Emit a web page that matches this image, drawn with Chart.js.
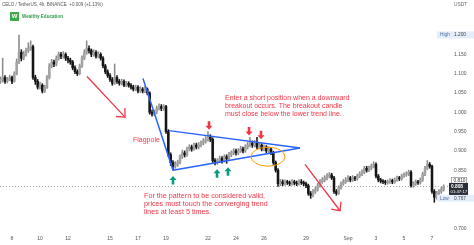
<!DOCTYPE html>
<html><head><meta charset="utf-8">
<script src="https://cdn.jsdelivr.net/npm/chart.js@4.4.0/dist/chart.umd.min.js"></script>
<style>html,body{margin:0;padding:0;background:#fff;}#wrap{width:474px;height:245px;position:relative;}</style>
</head><body><div id="wrap"><canvas id="c" width="474" height="245"></canvas></div>
<script>
// 4h candles, CELO/USDT, starting Aug 7 04:00 (time in day-of-August units)
const startDay = 7 + 4/24;
const stepDay = 4/24;
const opens = [
1.080,1.085,1.090,1.080,1.085,1.090,1.080,1.100,1.130,1.155,
1.140,1.150,1.160,1.165,1.170,1.090,1.080,1.065,1.070,1.055,
1.065,1.090,1.120,1.130,1.125,1.140,1.150,1.145,1.150,1.140,
1.135,1.130,1.115,1.105,1.100,1.120,1.140,1.155,1.165,1.160,
1.150,1.155,1.145,1.150,1.140,1.120,1.105,1.095,1.085,1.075,
1.090,1.080,1.075,1.080,1.070,1.075,1.070,1.065,1.060,1.065,
1.055,1.060,1.055,1.060,1.050,1.000,0.995,1.000,1.010,1.015,
1.010,1.015,0.950,0.890,0.870,0.860,0.865,0.870,0.885,0.895,
0.890,0.905,0.910,0.905,0.915,0.910,0.915,0.920,0.925,0.930,
0.935,0.930,0.875,0.870,0.875,0.880,0.875,0.885,0.880,0.890,
0.895,0.900,0.895,0.900,0.905,0.900,0.910,0.915,0.920,0.915,
0.920,0.910,0.915,0.905,0.910,0.900,0.905,0.895,0.870,0.850,
0.815,0.820,0.815,0.820,0.818,0.815,0.820,0.817,0.815,0.820,
0.818,0.815,0.810,0.790,0.785,0.795,0.800,0.810,0.820,0.825,
0.830,0.835,0.838,0.830,0.795,0.790,0.805,0.815,0.820,0.825,
0.830,0.825,0.830,0.828,0.835,0.840,0.845,0.855,0.850,0.855,
0.860,0.865,0.835,0.825,0.822,0.820,0.818,0.820,0.823,0.820,
0.825,0.830,0.828,0.835,0.838,0.840,0.845,0.810,0.815,0.820,
0.818,0.825,0.840,0.855,0.865,0.860,0.795,0.780,0.790,0.795,0.800];
const highs = [
1.092,1.140,1.095,1.090,1.096,1.094,1.105,1.138,1.200,1.162,
1.158,1.166,1.180,1.185,1.174,1.096,1.085,1.078,1.074,1.070,
1.095,1.126,1.137,1.135,1.146,1.156,1.155,1.157,1.154,1.145,
1.140,1.134,1.120,1.110,1.125,1.146,1.162,1.185,1.172,1.164,
1.162,1.160,1.157,1.154,1.144,1.124,1.110,1.100,1.090,1.125,
1.095,1.085,1.086,1.084,1.080,1.079,1.074,1.070,1.070,1.069,
1.066,1.064,1.067,1.063,1.053,1.006,1.006,1.016,1.022,1.020,
1.020,1.018,0.955,0.895,0.875,0.872,0.876,0.890,0.902,0.900,
0.910,0.916,0.915,0.920,0.920,0.922,0.926,0.932,0.937,0.950,
0.942,0.934,0.880,0.880,0.887,0.885,0.890,0.890,0.896,0.900,
0.906,0.905,0.906,0.912,0.910,0.916,0.922,0.935,0.926,0.927,
0.935,0.921,0.919,0.916,0.914,0.911,0.909,0.899,0.874,0.854,
0.826,0.825,0.825,0.824,0.822,0.826,0.824,0.822,0.825,0.826,
0.822,0.819,0.814,0.795,0.800,0.806,0.816,0.826,0.831,0.836,
0.841,0.844,0.842,0.834,0.800,0.810,0.820,0.826,0.831,0.836,
0.834,0.836,0.834,0.840,0.846,0.851,0.860,0.860,0.861,0.866,
0.872,0.869,0.839,0.829,0.826,0.824,0.825,0.828,0.827,0.830,
0.835,0.834,0.840,0.843,0.846,0.850,0.849,0.820,0.825,0.824,
0.830,0.845,0.860,0.875,0.870,0.863,0.800,0.795,0.800,0.806,0.812];
const lows = [
1.075,1.078,1.075,1.076,1.082,1.074,1.078,1.097,1.126,1.133,
1.136,1.145,1.155,1.160,1.085,1.072,1.060,1.060,1.050,1.051,
1.062,1.086,1.115,1.118,1.120,1.135,1.139,1.140,1.134,1.128,
1.124,1.110,1.100,1.095,1.097,1.116,1.136,1.150,1.153,1.144,
1.145,1.140,1.141,1.135,1.115,1.100,1.090,1.080,1.070,1.072,
1.075,1.070,1.071,1.066,1.066,1.065,1.060,1.055,1.056,1.050,
1.051,1.050,1.051,1.045,0.995,0.990,0.991,0.996,1.006,1.004,
1.005,0.945,0.885,0.862,0.850,0.855,0.860,0.866,0.880,0.884,
0.886,0.900,0.899,0.901,0.905,0.905,0.910,0.916,0.920,0.925,
0.924,0.870,0.864,0.865,0.870,0.868,0.871,0.868,0.876,0.885,
0.890,0.889,0.890,0.896,0.895,0.896,0.905,0.910,0.909,0.910,
0.905,0.905,0.900,0.900,0.895,0.896,0.890,0.865,0.845,0.808,
0.810,0.810,0.811,0.813,0.810,0.811,0.812,0.810,0.811,0.813,
0.810,0.805,0.785,0.777,0.781,0.790,0.796,0.806,0.816,0.820,
0.825,0.830,0.826,0.790,0.785,0.787,0.801,0.811,0.816,0.820,
0.820,0.821,0.823,0.824,0.831,0.836,0.841,0.845,0.846,0.851,
0.856,0.830,0.820,0.817,0.815,0.813,0.814,0.816,0.815,0.816,
0.821,0.823,0.824,0.831,0.834,0.836,0.806,0.806,0.811,0.813,
0.814,0.821,0.836,0.851,0.855,0.790,0.767,0.775,0.785,0.790,0.796];
const closes = [
1.085,1.090,1.080,1.085,1.090,1.080,1.100,1.130,1.155,1.140,
1.150,1.160,1.165,1.170,1.090,1.080,1.065,1.070,1.055,1.065,
1.090,1.120,1.130,1.125,1.140,1.150,1.145,1.150,1.140,1.135,
1.130,1.115,1.105,1.100,1.120,1.140,1.155,1.165,1.160,1.150,
1.155,1.145,1.150,1.140,1.120,1.105,1.095,1.085,1.075,1.090,
1.080,1.075,1.080,1.070,1.075,1.070,1.065,1.060,1.065,1.055,
1.060,1.055,1.060,1.050,1.000,0.995,1.000,1.010,1.015,1.010,
1.015,0.950,0.890,0.870,0.860,0.865,0.870,0.885,0.895,0.890,
0.905,0.910,0.905,0.915,0.910,0.915,0.920,0.925,0.930,0.935,
0.930,0.875,0.870,0.875,0.880,0.875,0.885,0.880,0.890,0.895,
0.900,0.895,0.900,0.905,0.900,0.910,0.915,0.920,0.915,0.920,
0.910,0.915,0.905,0.910,0.900,0.905,0.895,0.870,0.850,0.815,
0.820,0.815,0.820,0.818,0.815,0.820,0.817,0.815,0.820,0.818,
0.815,0.810,0.790,0.785,0.795,0.800,0.810,0.820,0.825,0.830,
0.835,0.838,0.830,0.795,0.790,0.805,0.815,0.820,0.825,0.830,
0.825,0.830,0.828,0.835,0.840,0.845,0.855,0.850,0.855,0.860,
0.865,0.835,0.825,0.822,0.820,0.818,0.820,0.823,0.820,0.825,
0.830,0.828,0.835,0.838,0.840,0.845,0.810,0.815,0.820,0.818,
0.825,0.840,0.855,0.865,0.860,0.795,0.780,0.790,0.795,0.800,0.808];

const xTickDays = [8,10,12,15,17,19,22,24,26,29,32,34,36,38];
const xTickLabels = ['8','10','12','15','17','19','22','24','26','29','Sep','3','5','7'];
const yTickValues = [0.70,0.85,0.90,0.95,1.00,1.05,1.10,1.15];

const currentPrice = 0.808, prevMark = 0.8225, highPrice = 1.200, lowPrice = 0.767;

// annotation geometry in (day, price)
const flagpole = [{x:17.357,y:1.0875},{x:19.5,y:0.85}];
const upperTrend = [{x:19.214,y:0.9525},{x:28.571,y:0.9075}];
const lowerTrend = [{x:19.5,y:0.85},{x:28.571,y:0.9075}];
const arrowA = [{x:13.357,y:1.0925},{x:16.071,y:0.9875}];
const arrowB = [{x:28.929,y:0.865},{x:31.429,y:0.745}];
const redTouches = [{x:22.071,y:0.955},{x:24.929,y:0.94},{x:25.786,y:0.93}];
const greenTouches = [{x:19.5,y:0.835},{x:22.643,y:0.8525},{x:23.429,y:0.8575}];
const breakoutCircle = {x:26.286,y:0.885};
const noteEntry = ['Enter a short position when a downward','breakout occurs. The breakout candle','must close below the lower trend line.'];
const noteValid = ['For the pattern to be considered valid,','prices must touch the converging trend','lines at least 5 times.'];

const xs = closes.map((_,i)=> startDay + i*stepDay);
const UP = '#a3a3a3', DOWN = '#151515';
const isUp = i => closes[i] >= opens[i];
const RED = '#f23645', BLUE = '#2962ff', GREEN = '#089981';

const overlay = {
  id:'overlay',
  beforeDatasetsDraw(chart){
    const {ctx, chartArea:a, scales:{y}} = chart;
    const py = Math.round(y.getPixelForValue(currentPrice))+0.5;
    ctx.save(); ctx.strokeStyle='#a8adb5'; ctx.lineWidth=1; ctx.setLineDash([1,2]);
    ctx.beginPath(); ctx.moveTo(a.left,py); ctx.lineTo(a.right,py); ctx.stroke(); ctx.restore();
  },
  afterDatasetsDraw(chart){
    const {ctx, scales:{x,y}} = chart;
    const P = p => [x.getPixelForValue(p.x), y.getPixelForValue(p.y)];
    ctx.save();
    ctx.strokeStyle=RED; ctx.lineWidth=1.3;
    [arrowA, arrowB].forEach(ar=>{
      const [x0,y0]=P(ar[0]), [x1,y1]=P(ar[1]);
      const ang=Math.atan2(y1-y0,x1-x0), L=9;
      ctx.beginPath();
      ctx.moveTo(x1-L*Math.cos(ang-0.75), y1-L*Math.sin(ang-0.75));
      ctx.lineTo(x1,y1);
      ctx.lineTo(x1-L*Math.cos(ang+0.75), y1-L*Math.sin(ang+0.75));
      ctx.stroke();
    });
    const block=(p,dir,color)=>{
      const [cx,ty]=P(p); const d=dir;
      ctx.fillStyle=color; ctx.beginPath();
      ctx.moveTo(cx,ty);
      ctx.lineTo(cx-3.5,ty-4*d); ctx.lineTo(cx-1.3,ty-4*d); ctx.lineTo(cx-1.3,ty-8.5*d);
      ctx.lineTo(cx+1.3,ty-8.5*d); ctx.lineTo(cx+1.3,ty-4*d); ctx.lineTo(cx+3.5,ty-4*d);
      ctx.closePath(); ctx.fill();
    };
    redTouches.forEach(p=>block(p,1,RED));
    greenTouches.forEach(p=>block(p,-1,GREEN));
    const [ex,ey]=P(breakoutCircle);
    ctx.strokeStyle='#ff9800'; ctx.lineWidth=1;
    ctx.beginPath(); ctx.ellipse(ex,ey,17,9.5,0,0,Math.PI*2); ctx.stroke();
    ctx.fillStyle=RED; ctx.textBaseline='middle'; ctx.textAlign='left';
    ctx.font='7px "Liberation Sans", Arial, sans-serif';
    ctx.fillText('Flagpole', x.getPixelForValue(16.643), y.getPixelForValue(0.9275));
    noteEntry.forEach((t,i)=>ctx.fillText(t, x.getPixelForValue(23.214), y.getPixelForValue(1.0375)+i*8));
    ctx.font='7.2px "Liberation Sans", Arial, sans-serif';
    noteValid.forEach((t,i)=>ctx.fillText(t, x.getPixelForValue(17.429), y.getPixelForValue(0.7825)+i*8));
    ctx.fillStyle='#555'; ctx.font='4.5px "Liberation Sans", Arial, sans-serif';
    ctx.fillText('CELO / TetherUS, 4h, BINANCE  +0.009 (+1.13%)', 2, 5);
    ctx.fillStyle='#3ea84c'; ctx.fillRect(10,12,9,9);
    ctx.fillStyle='#fff'; ctx.font='bold 6px "Liberation Sans", Arial, sans-serif'; ctx.textAlign='center';
    ctx.fillText('W',14.5,16.8);
    ctx.fillStyle='#2f9a4c'; ctx.textAlign='left'; ctx.font='bold 4.6px "Liberation Sans", Arial, sans-serif';
    ctx.fillText('Wealthy Education', 22, 17);
    ctx.font='4.8px "Liberation Sans", Arial, sans-serif';
    ctx.fillStyle='#666'; ctx.fillText('USDT', 454, 5);
    const hy=y.getPixelForValue(highPrice);
    ctx.fillStyle='#e4eefb'; ctx.fillRect(437,hy-3.5,37,7);
    ctx.fillStyle='#4f6f9f'; ctx.fillText('High',440,hy); ctx.fillStyle='#444'; ctx.fillText(highPrice.toFixed(3),454,hy);
    const ly=y.getPixelForValue(lowPrice)-4;
    ctx.fillStyle='#e4eefb'; ctx.fillRect(437,ly-3.5,37,7);
    ctx.fillStyle='#4f6f9f'; ctx.fillText('Low',440,ly); ctx.fillStyle='#444'; ctx.fillText(lowPrice.toFixed(3),454,ly);
    const my=y.getPixelForValue(prevMark);
    ctx.fillStyle='#fff'; ctx.fillRect(451,my-3.5,16,7);
    ctx.strokeStyle='#888'; ctx.lineWidth=0.7; ctx.strokeRect(451.5,my-3.5,15,7);
    ctx.fillStyle='#333'; ctx.fillText('0.810',453.5,my);
    const cy=y.getPixelForValue(currentPrice);
    ctx.fillStyle='#2a2e39'; ctx.fillRect(449,cy-3.5,19,12);
    ctx.fillStyle='#fff'; ctx.font='bold 4.8px "Liberation Sans", Arial, sans-serif'; ctx.fillText(currentPrice.toFixed(3),451,cy);
    ctx.font='4.3px "Liberation Sans", Arial, sans-serif'; ctx.fillText('01:47:17',450.5,cy+5.5);
    ctx.restore();
  }
};

const lineDs = (data,color,w)=>({type:'line',data,borderColor:color,borderWidth:w,pointRadius:0,fill:false,order:0,tension:0});

new Chart(document.getElementById('c'),{
  type:'bar',
  data:{datasets:[
    {label:'wick',data:xs.map((d,i)=>({x:d,y:[lows[i],highs[i]]})),grouped:false,barThickness:0.9,
     backgroundColor:xs.map((_,i)=>isUp(i)?'#8a8a8a':DOWN),order:3},
    {label:'body',data:xs.map((d,i)=>({x:d,y:[opens[i],closes[i]]})),grouped:false,barThickness:1.9,
     backgroundColor:xs.map((_,i)=>isUp(i)?UP:DOWN),order:2},
    lineDs(flagpole,BLUE,1.5),
    lineDs(upperTrend,BLUE,1.5),
    lineDs(lowerTrend,BLUE,1.5),
    lineDs(arrowA,RED,1.3),
    lineDs(arrowB,RED,1.3)
  ]},
  options:{
    responsive:false,animation:false,devicePixelRatio:1,
    layout:{padding:0},
    plugins:{legend:{display:false},tooltip:{enabled:false}},
    scales:{
      x:{type:'linear',min:8-12/14,max:8-12/14+449/14,offset:false,
        grid:{display:false,drawTicks:false},border:{display:false},
        afterBuildTicks:s=>{s.ticks=xTickDays.map(v=>({value:v}));},
        afterFit:s=>{s.height=13;},
        ticks:{autoSkip:false,maxRotation:0,padding:4,color:'#555',font:{size:5,family:'"Liberation Sans", Arial'},
          callback:v=>xTickLabels[xTickDays.indexOf(v)]}},
      y:{type:'linear',position:'right',min:0.69,max:1.27,
        grid:{display:false,drawTicks:false},border:{display:false},
        afterBuildTicks:s=>{s.ticks=yTickValues.map(v=>({value:v}));},
        afterFit:s=>{s.width=25;},
        ticks:{padding:5,color:'#555',font:{size:5,family:'"Liberation Sans", Arial'},callback:v=>Number(v).toFixed(3)}}
    }
  },
  plugins:[overlay]
});
</script></body></html>
